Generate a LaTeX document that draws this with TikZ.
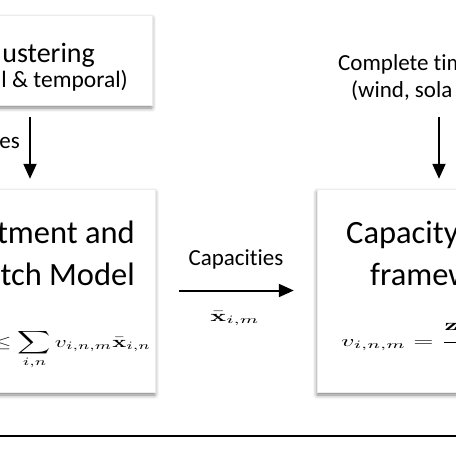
\documentclass[tikz,border=0pt]{standalone}
\usepackage[no-math]{fontspec}
\setmainfont{Carlito}[Ligatures=NoCommon]
\usepackage{graphicx}
\usetikzlibrary{arrows.meta,shadows.blur}
\tikzset{
  box/.style={fill=white, draw=gray!15, line width=0.4pt, inner sep=0pt,
    blur shadow={shadow xshift=0pt, shadow yshift=-3pt, shadow blur radius=4pt, shadow opacity=50}},
  title/.style={font=\fontsize{32.5}{38}\selectfont, inner sep=0pt},
  ttop/.style={font=\fontsize{28}{34}\selectfont, inner sep=0pt},
  sub/.style={font=\fontsize{23.5}{28}\selectfont, inner sep=0pt},
  lab/.style={font=\fontsize{23}{27}\selectfont, inner sep=0pt},
  mth/.style={inner sep=0pt},
  arr/.style={line width=2pt, -{Triangle[width=13pt,length=15pt]}},
}
\newcommand{\mxs}[2][2.6]{\scalebox{#1}[1.6]{#2}}
\begin{document}
\begin{tikzpicture}[x=1pt,y=-1pt]
\useasboundingbox (0,0) rectangle (456,456);
\clip (0,0) rectangle (456,456);
% boxes
\node[box, minimum width=302pt, minimum height=90pt] (tl) at (1,60) {};
\node[box, minimum width=320pt, minimum height=203pt] (bl) at (-5,290.5) {};
\node[box, minimum width=323pt, minimum height=203pt] (rb) at (478.5,290.5) {};
% top-left text
\node[ttop, anchor=base east] (t1) at (95,62) {ustering};
\node[sub, anchor=base east] (t2) at (128,87) {l \& temporal)};
% left arrow
\coordinate (ax) at (30,0);
\draw[arr, shorten <=12pt, shorten >=10pt] (tl.south -| ax) -- (bl.north -| ax);
\node[lab, anchor=base east] (es) at (20,148) {es};
% bottom-left box text
\node[title, anchor=base east] (b1) at (135,243) {tment and};
\node[title, anchor=base east] (b2) at (135,285) {tch Model};
\node[mth, anchor=base east] (b3) at (151,347) {\mxs[2.3]{$\displaystyle\leq \sum_{i,n} v_{i,n,m}\bar{\mathbf{x}}_{i,n}$}};
% horizontal arrow
\draw[arr, shorten <=24pt, shorten >=23pt] (bl.east) -- (rb.west);
\node[lab, anchor=base] (cap) at (236,265) {Capacities};
\node[mth, anchor=base] (xb) at (235,321) {\mxs{$\bar{\mathbf{x}}_{i,m}$}};
% right box text
\node[title, anchor=base west] (r1) at (346,243) {Capacity};
\node[title, anchor=base west] (r2) at (370,285) {framew};
\node[mth, anchor=base west] (r3) at (341,346) {\mxs{$v_{i,n,m} = {\displaystyle\frac{\mathbf{z}\rule[-6pt]{0pt}{0pt}\hphantom{xxxxxx}}{\hphantom{xxxxxxx}}}$}};
% top-right text and arrow
\node[lab, anchor=base west] (c1) at (338,70) {Complete tim};
\node[lab, anchor=base west] (c2) at (351,97) {(wind, sola};
\coordinate (src) at (439,117);
\draw[arr, shorten >=10pt] (src) -- (rb.north -| src);
% bottom rule
\coordinate (ll) at (0,436);
\coordinate (lr) at (456,436);
\draw[line width=2pt] (ll) -- (lr);
\end{tikzpicture}
\end{document}
